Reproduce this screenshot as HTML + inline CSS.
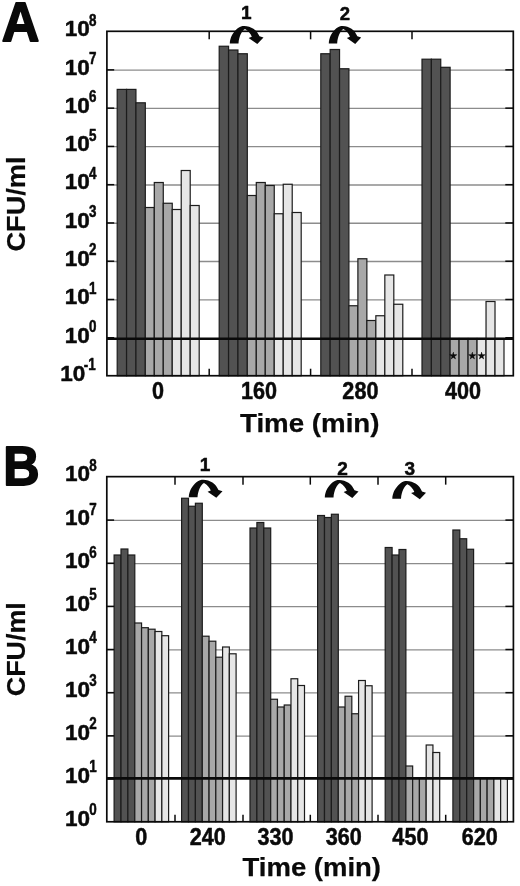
<!DOCTYPE html>
<html lang="en"><head><meta charset="utf-8"><title>CFU/ml versus time</title>
<style>html,body{margin:0;padding:0;background:#fff}svg{display:block}text{font-family:"Liberation Sans", sans-serif;fill:#0a0a0a;stroke:#0a0a0a;stroke-width:0.5px;stroke-linejoin:round}</style></head><body>
<svg width="520" height="886" viewBox="0 0 520 886">
<rect width="520" height="886" fill="#fff"/>
<defs><filter id="soft" x="0" y="0" width="520" height="886" filterUnits="userSpaceOnUse" color-interpolation-filters="sRGB"><feGaussianBlur stdDeviation="0.45"/></filter></defs>
<g filter="url(#soft)">
<line x1="106.9" x2="513.3" y1="70.17" y2="70.17" stroke="#8c8c8c" stroke-width="1.3"/>
<line x1="106.9" x2="513.3" y1="108.44" y2="108.44" stroke="#8c8c8c" stroke-width="1.3"/>
<line x1="106.9" x2="513.3" y1="146.71" y2="146.71" stroke="#8c8c8c" stroke-width="1.3"/>
<line x1="106.9" x2="513.3" y1="184.98" y2="184.98" stroke="#8c8c8c" stroke-width="1.3"/>
<line x1="106.9" x2="513.3" y1="223.25" y2="223.25" stroke="#8c8c8c" stroke-width="1.3"/>
<line x1="106.9" x2="513.3" y1="261.52" y2="261.52" stroke="#8c8c8c" stroke-width="1.3"/>
<line x1="106.9" x2="513.3" y1="299.79" y2="299.79" stroke="#8c8c8c" stroke-width="1.3"/>
<rect x="117.20" y="89.40" width="9.37" height="286.33" fill="#525252" stroke="#1c1c1c" stroke-width="1.2"/>
<rect x="126.57" y="89.40" width="9.37" height="286.33" fill="#525252" stroke="#1c1c1c" stroke-width="1.2"/>
<rect x="135.94" y="102.80" width="9.37" height="272.93" fill="#525252" stroke="#1c1c1c" stroke-width="1.2"/>
<rect x="145.31" y="207.50" width="8.98" height="168.23" fill="#a8a8a8" stroke="#1c1c1c" stroke-width="1.2"/>
<rect x="154.29" y="182.50" width="8.98" height="193.23" fill="#a8a8a8" stroke="#1c1c1c" stroke-width="1.2"/>
<rect x="163.27" y="203.25" width="8.98" height="172.48" fill="#a8a8a8" stroke="#1c1c1c" stroke-width="1.2"/>
<rect x="172.25" y="209.50" width="8.98" height="166.23" fill="#e6e6e6" stroke="#1c1c1c" stroke-width="1.2"/>
<rect x="181.23" y="170.50" width="8.98" height="205.23" fill="#e6e6e6" stroke="#1c1c1c" stroke-width="1.2"/>
<rect x="190.21" y="205.50" width="8.98" height="170.23" fill="#e6e6e6" stroke="#1c1c1c" stroke-width="1.2"/>
<rect x="219.20" y="46.25" width="9.37" height="329.48" fill="#525252" stroke="#1c1c1c" stroke-width="1.2"/>
<rect x="228.57" y="50.00" width="9.37" height="325.73" fill="#525252" stroke="#1c1c1c" stroke-width="1.2"/>
<rect x="237.94" y="53.75" width="9.37" height="321.98" fill="#525252" stroke="#1c1c1c" stroke-width="1.2"/>
<rect x="247.31" y="195.50" width="8.98" height="180.23" fill="#a8a8a8" stroke="#1c1c1c" stroke-width="1.2"/>
<rect x="256.29" y="182.50" width="8.98" height="193.23" fill="#a8a8a8" stroke="#1c1c1c" stroke-width="1.2"/>
<rect x="265.27" y="185.50" width="8.98" height="190.23" fill="#a8a8a8" stroke="#1c1c1c" stroke-width="1.2"/>
<rect x="274.25" y="213.75" width="8.98" height="161.98" fill="#e6e6e6" stroke="#1c1c1c" stroke-width="1.2"/>
<rect x="283.23" y="184.25" width="8.98" height="191.48" fill="#e6e6e6" stroke="#1c1c1c" stroke-width="1.2"/>
<rect x="292.21" y="212.50" width="8.98" height="163.23" fill="#e6e6e6" stroke="#1c1c1c" stroke-width="1.2"/>
<rect x="320.80" y="53.75" width="9.37" height="321.98" fill="#525252" stroke="#1c1c1c" stroke-width="1.2"/>
<rect x="330.17" y="49.50" width="9.37" height="326.23" fill="#525252" stroke="#1c1c1c" stroke-width="1.2"/>
<rect x="339.54" y="68.75" width="9.37" height="306.98" fill="#525252" stroke="#1c1c1c" stroke-width="1.2"/>
<rect x="348.91" y="305.75" width="8.98" height="69.98" fill="#a8a8a8" stroke="#1c1c1c" stroke-width="1.2"/>
<rect x="357.89" y="258.75" width="8.98" height="116.98" fill="#a8a8a8" stroke="#1c1c1c" stroke-width="1.2"/>
<rect x="366.87" y="320.50" width="8.98" height="55.23" fill="#a8a8a8" stroke="#1c1c1c" stroke-width="1.2"/>
<rect x="375.85" y="315.75" width="8.98" height="59.98" fill="#e6e6e6" stroke="#1c1c1c" stroke-width="1.2"/>
<rect x="384.83" y="275.00" width="8.98" height="100.73" fill="#e6e6e6" stroke="#1c1c1c" stroke-width="1.2"/>
<rect x="393.81" y="304.25" width="8.98" height="71.48" fill="#e6e6e6" stroke="#1c1c1c" stroke-width="1.2"/>
<rect x="422.00" y="59.20" width="9.37" height="316.53" fill="#525252" stroke="#1c1c1c" stroke-width="1.2"/>
<rect x="431.37" y="59.20" width="9.37" height="316.53" fill="#525252" stroke="#1c1c1c" stroke-width="1.2"/>
<rect x="440.74" y="67.30" width="9.37" height="308.43" fill="#525252" stroke="#1c1c1c" stroke-width="1.2"/>
<rect x="450.11" y="338.50" width="8.98" height="37.23" fill="#a8a8a8" stroke="#1c1c1c" stroke-width="1.2"/>
<rect x="459.09" y="338.50" width="8.98" height="37.23" fill="#a8a8a8" stroke="#1c1c1c" stroke-width="1.2"/>
<rect x="468.07" y="338.50" width="8.98" height="37.23" fill="#a8a8a8" stroke="#1c1c1c" stroke-width="1.2"/>
<rect x="477.05" y="338.50" width="8.98" height="37.23" fill="#e6e6e6" stroke="#1c1c1c" stroke-width="1.2"/>
<rect x="486.03" y="301.50" width="8.98" height="74.23" fill="#e6e6e6" stroke="#1c1c1c" stroke-width="1.2"/>
<rect x="495.01" y="338.50" width="8.98" height="37.23" fill="#e6e6e6" stroke="#1c1c1c" stroke-width="1.2"/>
<line x1="106.9" x2="114.2" y1="69.87" y2="69.87" stroke="#0a0a0a" stroke-width="1.5"/>
<line x1="505.29999999999995" x2="513.3" y1="69.87" y2="69.87" stroke="#0a0a0a" stroke-width="1.5"/>
<line x1="106.9" x2="114.2" y1="108.14" y2="108.14" stroke="#0a0a0a" stroke-width="1.5"/>
<line x1="505.29999999999995" x2="513.3" y1="108.14" y2="108.14" stroke="#0a0a0a" stroke-width="1.5"/>
<line x1="106.9" x2="114.2" y1="146.41" y2="146.41" stroke="#0a0a0a" stroke-width="1.5"/>
<line x1="505.29999999999995" x2="513.3" y1="146.41" y2="146.41" stroke="#0a0a0a" stroke-width="1.5"/>
<line x1="106.9" x2="114.2" y1="184.68" y2="184.68" stroke="#0a0a0a" stroke-width="1.5"/>
<line x1="505.29999999999995" x2="513.3" y1="184.68" y2="184.68" stroke="#0a0a0a" stroke-width="1.5"/>
<line x1="106.9" x2="114.2" y1="222.95" y2="222.95" stroke="#0a0a0a" stroke-width="1.5"/>
<line x1="505.29999999999995" x2="513.3" y1="222.95" y2="222.95" stroke="#0a0a0a" stroke-width="1.5"/>
<line x1="106.9" x2="114.2" y1="261.22" y2="261.22" stroke="#0a0a0a" stroke-width="1.5"/>
<line x1="505.29999999999995" x2="513.3" y1="261.22" y2="261.22" stroke="#0a0a0a" stroke-width="1.5"/>
<line x1="106.9" x2="114.2" y1="299.49" y2="299.49" stroke="#0a0a0a" stroke-width="1.5"/>
<line x1="505.29999999999995" x2="513.3" y1="299.49" y2="299.49" stroke="#0a0a0a" stroke-width="1.5"/>
<line x1="106.9" x2="114.2" y1="337.76" y2="337.76" stroke="#0a0a0a" stroke-width="1.5"/>
<line x1="505.29999999999995" x2="513.3" y1="337.76" y2="337.76" stroke="#0a0a0a" stroke-width="1.5"/>
<line x1="209.2" x2="209.2" y1="31.3" y2="39.3" stroke="#0a0a0a" stroke-width="1.5"/>
<line x1="209.2" x2="209.2" y1="375.73" y2="368.73" stroke="#0a0a0a" stroke-width="1.5"/>
<line x1="310.6" x2="310.6" y1="31.3" y2="39.3" stroke="#0a0a0a" stroke-width="1.5"/>
<line x1="310.6" x2="310.6" y1="375.73" y2="368.73" stroke="#0a0a0a" stroke-width="1.5"/>
<line x1="412.0" x2="412.0" y1="31.3" y2="39.3" stroke="#0a0a0a" stroke-width="1.5"/>
<line x1="412.0" x2="412.0" y1="375.73" y2="368.73" stroke="#0a0a0a" stroke-width="1.5"/>
<line x1="106.9" x2="513.3" y1="338.76" y2="338.76" stroke="#0a0a0a" stroke-width="2.7"/>
<rect x="106.9" y="31.3" width="406.4" height="344.43" fill="none" stroke="#0a0a0a" stroke-width="1.7"/>
<text x="453.4" y="359.4" font-size="9.6" text-anchor="middle" style="stroke-width:0.3px;font-family:'DejaVu Sans',sans-serif">★</text>
<text x="472.2" y="359.4" font-size="9.6" text-anchor="middle" style="stroke-width:0.3px;font-family:'DejaVu Sans',sans-serif">★</text>
<text x="481.5" y="359.4" font-size="9.6" text-anchor="middle" style="stroke-width:0.3px;font-family:'DejaVu Sans',sans-serif">★</text>
<text x="64.70" y="36.40" font-size="22.5" font-weight="bold">10</text>
<text transform="translate(89.10,25.80) scale(0.86,1)" font-size="15.6" font-weight="bold">8</text>
<text x="64.70" y="74.67" font-size="22.5" font-weight="bold">10</text>
<text transform="translate(89.10,64.07) scale(0.86,1)" font-size="15.6" font-weight="bold">7</text>
<text x="64.70" y="112.94" font-size="22.5" font-weight="bold">10</text>
<text transform="translate(89.10,102.34) scale(0.86,1)" font-size="15.6" font-weight="bold">6</text>
<text x="64.70" y="151.21" font-size="22.5" font-weight="bold">10</text>
<text transform="translate(89.10,140.61) scale(0.86,1)" font-size="15.6" font-weight="bold">5</text>
<text x="64.70" y="189.48" font-size="22.5" font-weight="bold">10</text>
<text transform="translate(89.10,178.88) scale(0.86,1)" font-size="15.6" font-weight="bold">4</text>
<text x="64.70" y="227.75" font-size="22.5" font-weight="bold">10</text>
<text transform="translate(89.10,217.15) scale(0.86,1)" font-size="15.6" font-weight="bold">3</text>
<text x="64.70" y="266.02" font-size="22.5" font-weight="bold">10</text>
<text transform="translate(89.10,255.42) scale(0.86,1)" font-size="15.6" font-weight="bold">2</text>
<text x="64.70" y="304.29" font-size="22.5" font-weight="bold">10</text>
<text transform="translate(89.10,293.69) scale(0.86,1)" font-size="15.6" font-weight="bold">1</text>
<text x="64.70" y="342.56" font-size="22.5" font-weight="bold">10</text>
<text transform="translate(89.10,331.96) scale(0.86,1)" font-size="15.6" font-weight="bold">0</text>
<text x="60.30" y="380.83" font-size="22.5" font-weight="bold">10</text>
<text transform="translate(83.80,370.23) scale(0.86,1)" font-size="15.6" font-weight="bold">-1</text>
<text transform="translate(158,399.2) scale(0.92,1)" font-size="23.5" font-weight="bold" text-anchor="middle">0</text>
<text transform="translate(259,399.2) scale(0.92,1)" font-size="23.5" font-weight="bold" text-anchor="middle">160</text>
<text transform="translate(360.4,399.2) scale(0.92,1)" font-size="23.5" font-weight="bold" text-anchor="middle">280</text>
<text transform="translate(463,399.2) scale(0.92,1)" font-size="23.5" font-weight="bold" text-anchor="middle">400</text>
<text x="240" y="432" font-size="26" font-weight="bold" style="stroke-width:0.25px" textLength="139.5" lengthAdjust="spacingAndGlyphs">Time (min)</text>
<text transform="translate(25.2,251.5) rotate(-90)" font-size="26.5" font-weight="bold" style="stroke-width:0.2px" textLength="95" lengthAdjust="spacingAndGlyphs">CFU/ml</text>
<text transform="translate(1.8,41.3) scale(0.94,1)" font-size="55.4" font-weight="bold" style="stroke-width:1.8px">A</text>
<path transform="translate(230.00,43.50) scale(1.0,1.0)" d="M-0.2,0 C0,-6 3,-11.5 7.7,-15.3 C10,-17 12,-17.6 14.2,-17.6 C21,-17.6 27,-13.5 29.5,-7.2 L33.5,-6 L27.3,0.5 L18.6,-5.6 L21.8,-6.8 C20.8,-9.5 18.3,-12.8 15,-14.4 C11.8,-12.8 9,-7 8.5,0 Z" fill="#0a0a0a"/>
<path transform="translate(329.00,43.50) scale(0.96,1.0)" d="M-0.2,0 C0,-6 3,-11.5 7.7,-15.3 C10,-17 12,-17.6 14.2,-17.6 C21,-17.6 27,-13.5 29.5,-7.2 L33.5,-6 L27.3,0.5 L18.6,-5.6 L21.8,-6.8 C20.8,-9.5 18.3,-12.8 15,-14.4 C11.8,-12.8 9,-7 8.5,0 Z" fill="#0a0a0a"/>
<text x="246.3" y="19" font-size="19" font-weight="bold" text-anchor="middle">1</text>
<text x="345" y="19.8" font-size="18.5" font-weight="bold" text-anchor="middle">2</text>
<line x1="106.8" x2="513.4" y1="520.39" y2="520.39" stroke="#8c8c8c" stroke-width="1.3"/>
<line x1="106.8" x2="513.4" y1="563.53" y2="563.53" stroke="#8c8c8c" stroke-width="1.3"/>
<line x1="106.8" x2="513.4" y1="606.67" y2="606.67" stroke="#8c8c8c" stroke-width="1.3"/>
<line x1="106.8" x2="513.4" y1="649.81" y2="649.81" stroke="#8c8c8c" stroke-width="1.3"/>
<line x1="106.8" x2="513.4" y1="692.95" y2="692.95" stroke="#8c8c8c" stroke-width="1.3"/>
<line x1="106.8" x2="513.4" y1="736.09" y2="736.09" stroke="#8c8c8c" stroke-width="1.3"/>
<rect x="114.10" y="555.00" width="6.90" height="266.77" fill="#525252" stroke="#1c1c1c" stroke-width="1.2"/>
<rect x="121.00" y="549.00" width="6.90" height="272.77" fill="#525252" stroke="#1c1c1c" stroke-width="1.2"/>
<rect x="127.90" y="555.00" width="6.90" height="266.77" fill="#525252" stroke="#1c1c1c" stroke-width="1.2"/>
<rect x="134.80" y="623.00" width="6.76" height="198.77" fill="#a8a8a8" stroke="#1c1c1c" stroke-width="1.2"/>
<rect x="141.56" y="627.70" width="6.76" height="194.07" fill="#a8a8a8" stroke="#1c1c1c" stroke-width="1.2"/>
<rect x="148.32" y="629.20" width="6.76" height="192.57" fill="#a8a8a8" stroke="#1c1c1c" stroke-width="1.2"/>
<rect x="155.08" y="631.50" width="6.76" height="190.27" fill="#e6e6e6" stroke="#1c1c1c" stroke-width="1.2"/>
<rect x="161.84" y="635.70" width="6.76" height="186.07" fill="#e6e6e6" stroke="#1c1c1c" stroke-width="1.2"/>
<rect x="181.60" y="498.25" width="6.90" height="323.52" fill="#525252" stroke="#1c1c1c" stroke-width="1.2"/>
<rect x="188.50" y="506.25" width="6.90" height="315.52" fill="#525252" stroke="#1c1c1c" stroke-width="1.2"/>
<rect x="195.40" y="503.25" width="6.90" height="318.52" fill="#525252" stroke="#1c1c1c" stroke-width="1.2"/>
<rect x="202.30" y="636.20" width="6.76" height="185.57" fill="#a8a8a8" stroke="#1c1c1c" stroke-width="1.2"/>
<rect x="209.06" y="641.20" width="6.76" height="180.57" fill="#a8a8a8" stroke="#1c1c1c" stroke-width="1.2"/>
<rect x="215.82" y="657.20" width="6.76" height="164.57" fill="#a8a8a8" stroke="#1c1c1c" stroke-width="1.2"/>
<rect x="222.58" y="647.00" width="6.76" height="174.77" fill="#e6e6e6" stroke="#1c1c1c" stroke-width="1.2"/>
<rect x="229.34" y="653.80" width="6.76" height="167.97" fill="#e6e6e6" stroke="#1c1c1c" stroke-width="1.2"/>
<rect x="250.00" y="528.00" width="6.90" height="293.77" fill="#525252" stroke="#1c1c1c" stroke-width="1.2"/>
<rect x="256.90" y="522.50" width="6.90" height="299.27" fill="#525252" stroke="#1c1c1c" stroke-width="1.2"/>
<rect x="263.80" y="528.00" width="6.90" height="293.77" fill="#525252" stroke="#1c1c1c" stroke-width="1.2"/>
<rect x="270.70" y="699.25" width="6.76" height="122.52" fill="#a8a8a8" stroke="#1c1c1c" stroke-width="1.2"/>
<rect x="277.46" y="707.00" width="6.76" height="114.77" fill="#a8a8a8" stroke="#1c1c1c" stroke-width="1.2"/>
<rect x="284.22" y="705.00" width="6.76" height="116.77" fill="#a8a8a8" stroke="#1c1c1c" stroke-width="1.2"/>
<rect x="290.98" y="678.75" width="6.76" height="143.02" fill="#e6e6e6" stroke="#1c1c1c" stroke-width="1.2"/>
<rect x="297.74" y="685.50" width="6.76" height="136.27" fill="#e6e6e6" stroke="#1c1c1c" stroke-width="1.2"/>
<rect x="317.60" y="515.50" width="6.90" height="306.27" fill="#525252" stroke="#1c1c1c" stroke-width="1.2"/>
<rect x="324.50" y="517.50" width="6.90" height="304.27" fill="#525252" stroke="#1c1c1c" stroke-width="1.2"/>
<rect x="331.40" y="514.25" width="6.90" height="307.52" fill="#525252" stroke="#1c1c1c" stroke-width="1.2"/>
<rect x="338.30" y="707.00" width="6.76" height="114.77" fill="#a8a8a8" stroke="#1c1c1c" stroke-width="1.2"/>
<rect x="345.06" y="696.25" width="6.76" height="125.52" fill="#a8a8a8" stroke="#1c1c1c" stroke-width="1.2"/>
<rect x="351.82" y="713.75" width="6.76" height="108.02" fill="#a8a8a8" stroke="#1c1c1c" stroke-width="1.2"/>
<rect x="358.58" y="680.50" width="6.76" height="141.27" fill="#e6e6e6" stroke="#1c1c1c" stroke-width="1.2"/>
<rect x="365.34" y="685.75" width="6.76" height="136.02" fill="#e6e6e6" stroke="#1c1c1c" stroke-width="1.2"/>
<rect x="385.20" y="547.50" width="6.90" height="274.27" fill="#525252" stroke="#1c1c1c" stroke-width="1.2"/>
<rect x="392.10" y="555.00" width="6.90" height="266.77" fill="#525252" stroke="#1c1c1c" stroke-width="1.2"/>
<rect x="399.00" y="549.50" width="6.90" height="272.27" fill="#525252" stroke="#1c1c1c" stroke-width="1.2"/>
<rect x="405.90" y="766.00" width="6.76" height="55.77" fill="#a8a8a8" stroke="#1c1c1c" stroke-width="1.2"/>
<rect x="412.66" y="778.40" width="6.76" height="43.37" fill="#a8a8a8" stroke="#1c1c1c" stroke-width="1.2"/>
<rect x="419.42" y="778.40" width="6.76" height="43.37" fill="#a8a8a8" stroke="#1c1c1c" stroke-width="1.2"/>
<rect x="426.18" y="745.00" width="6.76" height="76.77" fill="#e6e6e6" stroke="#1c1c1c" stroke-width="1.2"/>
<rect x="432.94" y="752.50" width="6.76" height="69.27" fill="#e6e6e6" stroke="#1c1c1c" stroke-width="1.2"/>
<rect x="452.90" y="530.00" width="6.90" height="291.77" fill="#525252" stroke="#1c1c1c" stroke-width="1.2"/>
<rect x="459.80" y="538.75" width="6.90" height="283.02" fill="#525252" stroke="#1c1c1c" stroke-width="1.2"/>
<rect x="466.70" y="549.25" width="6.90" height="272.52" fill="#525252" stroke="#1c1c1c" stroke-width="1.2"/>
<rect x="473.60" y="778.40" width="6.76" height="43.37" fill="#a8a8a8" stroke="#1c1c1c" stroke-width="1.2"/>
<rect x="480.36" y="778.40" width="6.76" height="43.37" fill="#a8a8a8" stroke="#1c1c1c" stroke-width="1.2"/>
<rect x="487.12" y="778.40" width="6.76" height="43.37" fill="#a8a8a8" stroke="#1c1c1c" stroke-width="1.2"/>
<rect x="493.88" y="778.40" width="6.76" height="43.37" fill="#e6e6e6" stroke="#1c1c1c" stroke-width="1.2"/>
<rect x="500.64" y="778.40" width="6.76" height="43.37" fill="#e6e6e6" stroke="#1c1c1c" stroke-width="1.2"/>
<line x1="106.8" x2="114.1" y1="520.09" y2="520.09" stroke="#0a0a0a" stroke-width="1.5"/>
<line x1="505.4" x2="513.4" y1="520.09" y2="520.09" stroke="#0a0a0a" stroke-width="1.5"/>
<line x1="106.8" x2="114.1" y1="563.23" y2="563.23" stroke="#0a0a0a" stroke-width="1.5"/>
<line x1="505.4" x2="513.4" y1="563.23" y2="563.23" stroke="#0a0a0a" stroke-width="1.5"/>
<line x1="106.8" x2="114.1" y1="606.37" y2="606.37" stroke="#0a0a0a" stroke-width="1.5"/>
<line x1="505.4" x2="513.4" y1="606.37" y2="606.37" stroke="#0a0a0a" stroke-width="1.5"/>
<line x1="106.8" x2="114.1" y1="649.51" y2="649.51" stroke="#0a0a0a" stroke-width="1.5"/>
<line x1="505.4" x2="513.4" y1="649.51" y2="649.51" stroke="#0a0a0a" stroke-width="1.5"/>
<line x1="106.8" x2="114.1" y1="692.65" y2="692.65" stroke="#0a0a0a" stroke-width="1.5"/>
<line x1="505.4" x2="513.4" y1="692.65" y2="692.65" stroke="#0a0a0a" stroke-width="1.5"/>
<line x1="106.8" x2="114.1" y1="735.79" y2="735.79" stroke="#0a0a0a" stroke-width="1.5"/>
<line x1="505.4" x2="513.4" y1="735.79" y2="735.79" stroke="#0a0a0a" stroke-width="1.5"/>
<line x1="106.8" x2="114.1" y1="778.93" y2="778.93" stroke="#0a0a0a" stroke-width="1.5"/>
<line x1="505.4" x2="513.4" y1="778.93" y2="778.93" stroke="#0a0a0a" stroke-width="1.5"/>
<line x1="175" x2="175" y1="476.65" y2="484.65" stroke="#0a0a0a" stroke-width="1.5"/>
<line x1="175" x2="175" y1="821.77" y2="814.77" stroke="#0a0a0a" stroke-width="1.5"/>
<line x1="243" x2="243" y1="476.65" y2="484.65" stroke="#0a0a0a" stroke-width="1.5"/>
<line x1="243" x2="243" y1="821.77" y2="814.77" stroke="#0a0a0a" stroke-width="1.5"/>
<line x1="310.3" x2="310.3" y1="476.65" y2="484.65" stroke="#0a0a0a" stroke-width="1.5"/>
<line x1="310.3" x2="310.3" y1="821.77" y2="814.77" stroke="#0a0a0a" stroke-width="1.5"/>
<line x1="378" x2="378" y1="476.65" y2="484.65" stroke="#0a0a0a" stroke-width="1.5"/>
<line x1="378" x2="378" y1="821.77" y2="814.77" stroke="#0a0a0a" stroke-width="1.5"/>
<line x1="445.7" x2="445.7" y1="476.65" y2="484.65" stroke="#0a0a0a" stroke-width="1.5"/>
<line x1="445.7" x2="445.7" y1="821.77" y2="814.77" stroke="#0a0a0a" stroke-width="1.5"/>
<line x1="106.8" x2="513.4" y1="778.28" y2="778.28" stroke="#0a0a0a" stroke-width="2.7"/>
<rect x="106.8" y="476.65" width="406.59999999999997" height="345.12" fill="none" stroke="#0a0a0a" stroke-width="1.7"/>
<text x="64.90" y="481.45" font-size="22.5" font-weight="bold">10</text>
<text transform="translate(89.30,470.85) scale(0.86,1)" font-size="15.6" font-weight="bold">8</text>
<text x="64.90" y="525.29" font-size="22.5" font-weight="bold">10</text>
<text transform="translate(89.30,514.69) scale(0.86,1)" font-size="15.6" font-weight="bold">7</text>
<text x="64.90" y="568.23" font-size="22.5" font-weight="bold">10</text>
<text transform="translate(89.30,557.63) scale(0.86,1)" font-size="15.6" font-weight="bold">6</text>
<text x="64.90" y="610.87" font-size="22.5" font-weight="bold">10</text>
<text transform="translate(89.30,600.27) scale(0.86,1)" font-size="15.6" font-weight="bold">5</text>
<text x="64.90" y="653.51" font-size="22.5" font-weight="bold">10</text>
<text transform="translate(89.30,642.91) scale(0.86,1)" font-size="15.6" font-weight="bold">4</text>
<text x="64.90" y="696.65" font-size="22.5" font-weight="bold">10</text>
<text transform="translate(89.30,686.05) scale(0.86,1)" font-size="15.6" font-weight="bold">3</text>
<text x="64.90" y="739.79" font-size="22.5" font-weight="bold">10</text>
<text transform="translate(89.30,729.19) scale(0.86,1)" font-size="15.6" font-weight="bold">2</text>
<text x="64.90" y="782.93" font-size="22.5" font-weight="bold">10</text>
<text transform="translate(89.30,772.33) scale(0.86,1)" font-size="15.6" font-weight="bold">1</text>
<text x="64.90" y="826.07" font-size="22.5" font-weight="bold">10</text>
<text transform="translate(89.30,815.47) scale(0.86,1)" font-size="15.6" font-weight="bold">0</text>
<text transform="translate(141.25,844.9) scale(0.92,1)" font-size="23.5" font-weight="bold" text-anchor="middle">0</text>
<text transform="translate(207.75,844.9) scale(0.92,1)" font-size="23.5" font-weight="bold" text-anchor="middle">240</text>
<text transform="translate(275.6,844.9) scale(0.92,1)" font-size="23.5" font-weight="bold" text-anchor="middle">330</text>
<text transform="translate(343.75,844.9) scale(0.92,1)" font-size="23.5" font-weight="bold" text-anchor="middle">360</text>
<text transform="translate(410.4,844.9) scale(0.92,1)" font-size="23.5" font-weight="bold" text-anchor="middle">450</text>
<text transform="translate(479.7,844.9) scale(0.92,1)" font-size="23.5" font-weight="bold" text-anchor="middle">620</text>
<text x="242.5" y="876.3" font-size="26" font-weight="bold" style="stroke-width:0.25px" textLength="138.5" lengthAdjust="spacingAndGlyphs">Time (min)</text>
<text transform="translate(25.2,696.2) rotate(-90)" font-size="26.5" font-weight="bold" style="stroke-width:0.2px" textLength="94" lengthAdjust="spacingAndGlyphs">CFU/ml</text>
<text transform="translate(3.2,485.4) scale(0.9,1)" font-size="55.9" font-weight="bold" style="stroke-width:1.8px">B</text>
<path transform="translate(189.00,497.30) scale(1.0,1.0)" d="M-0.2,0 C0,-6 3,-11.5 7.7,-15.3 C10,-17 12,-17.6 14.2,-17.6 C21,-17.6 27,-13.5 29.5,-7.2 L33.5,-6 L27.3,0.5 L18.6,-5.6 L21.8,-6.8 C20.8,-9.5 18.3,-12.8 15,-14.4 C11.8,-12.8 9,-7 8.5,0 Z" fill="#0a0a0a"/>
<path transform="translate(325.00,497.50) scale(1.0,1.0)" d="M-0.2,0 C0,-6 3,-11.5 7.7,-15.3 C10,-17 12,-17.6 14.2,-17.6 C21,-17.6 27,-13.5 29.5,-7.2 L33.5,-6 L27.3,0.5 L18.6,-5.6 L21.8,-6.8 C20.8,-9.5 18.3,-12.8 15,-14.4 C11.8,-12.8 9,-7 8.5,0 Z" fill="#0a0a0a"/>
<path transform="translate(392.50,498.70) scale(1.0,1.0)" d="M-0.2,0 C0,-6 3,-11.5 7.7,-15.3 C10,-17 12,-17.6 14.2,-17.6 C21,-17.6 27,-13.5 29.5,-7.2 L33.5,-6 L27.3,0.5 L18.6,-5.6 L21.8,-6.8 C20.8,-9.5 18.3,-12.8 15,-14.4 C11.8,-12.8 9,-7 8.5,0 Z" fill="#0a0a0a"/>
<text x="205" y="471.3" font-size="19" font-weight="bold" text-anchor="middle">1</text>
<text x="342.5" y="474.7" font-size="19" font-weight="bold" text-anchor="middle">2</text>
<text x="409.7" y="475.2" font-size="19" font-weight="bold" text-anchor="middle">3</text>
</g>
</svg></body></html>
